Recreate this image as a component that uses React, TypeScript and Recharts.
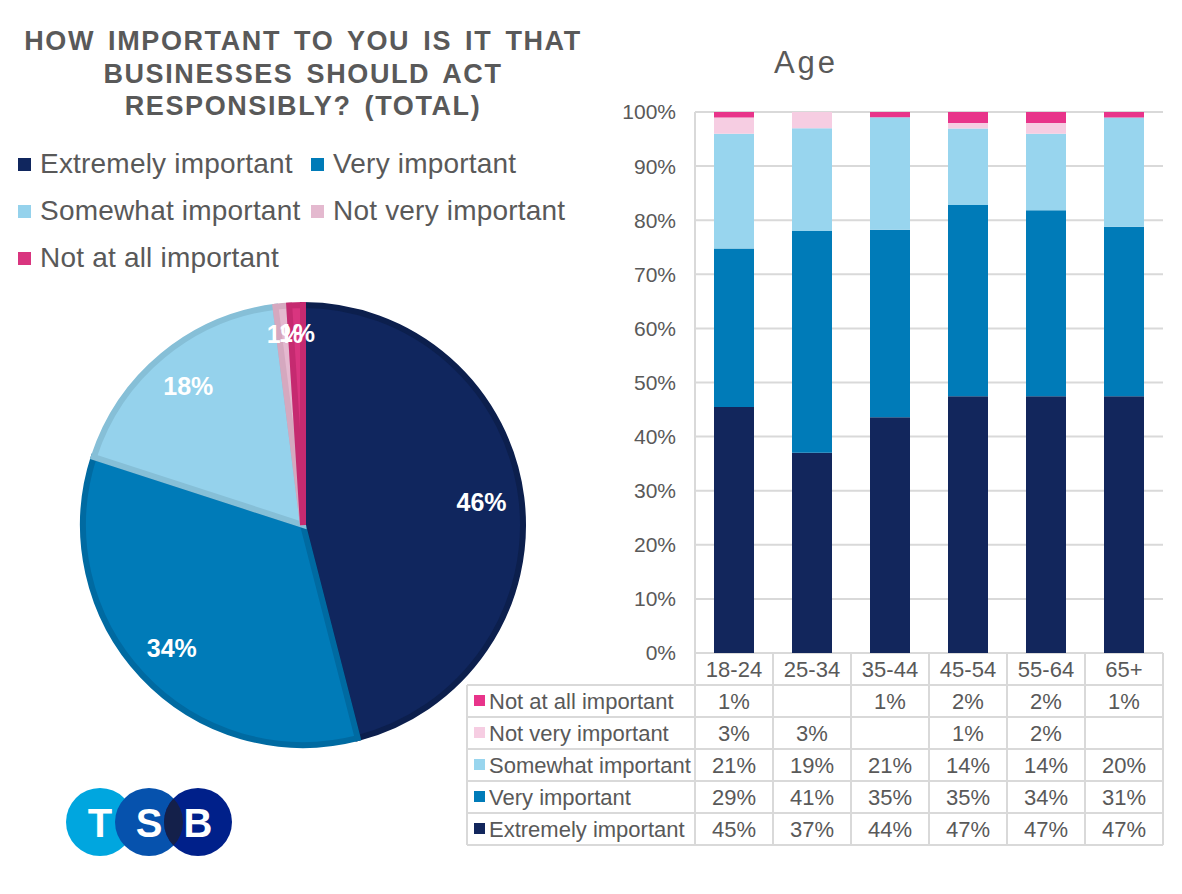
import { Bar, BarChart, CartesianGrid, Cell, Pie, PieChart, XAxis, YAxis } from "recharts";

const FONT = '"Liberation Sans", Arial, sans-serif';
const GREY = "#595959";
const LINE = "#d9d9d9";

// answer options, bottom of the stack first
const answers = [
  "Extremely important",
  "Very important",
  "Somewhat important",
  "Not very important",
  "Not at all important",
];
const barColors = ["#12265c", "#007bb8", "#98d5ee", "#f6cde2", "#e8348a"];
const pieColors = ["#10265e", "#007bb8", "#95d2ec", "#e4b9cf", "#d9357f"];
const pieStrokes = ["#0c1f4d", "#006aa1", "#86bfd7", "#d5a8bf", "#c52a70"];

// total sample
const totalValues = [46, 34, 18, 1, 1];

// by age band (blank cells are null)
const ageGroups = ["18-24", "25-34", "35-44", "45-54", "55-64", "65+"];
const extremely = [45, 37, 44, 47, 47, 47];
const very = [29, 41, 35, 35, 34, 31];
const somewhat = [21, 19, 21, 14, 14, 20];
const notVery = [3, 3, null, 1, 2, null];
const notAtAll = [1, null, 1, 2, 2, 1];

const seriesValues = [extremely, very, somewhat, notVery, notAtAll];
const seriesKeys = ["extremely", "very", "somewhat", "notVery", "notAtAll"];
const yTicks = [0, 0.1, 0.2, 0.3, 0.4, 0.5, 0.6, 0.7, 0.8, 0.9, 1];

const barData = ageGroups.map((age, i) => {
  const row: Record<string, string | number | null> = { age };
  seriesKeys.forEach((k, s) => (row[k] = seriesValues[s][i]));
  return row;
});

const pieData = answers.map((name, i) => ({ name, value: totalValues[i] }));

// bar chart plot box (page coords)
const PLOT_LEFT = 695;
const PLOT_RIGHT = 1163;
const PLOT_TOP = 112;
const PLOT_BOTTOM = 653;
const CHART_LEFT = 600;
const CHART_TOP = 90;
const BAND = (PLOT_RIGHT - PLOT_LEFT) / ageGroups.length;

const RADIAN = Math.PI / 180;

function PieLabel(props: any) {
  const { cx, cy, midAngle, value, percent } = props;
  // thin slices get their label pushed out a little
  const r = percent < 0.05 ? 192 : 180;
  const x = cx + r * Math.cos(-midAngle * RADIAN);
  const y = cy + r * Math.sin(-midAngle * RADIAN);
  return (
    <text
      x={x}
      y={y}
      fill="#ffffff"
      fontFamily={FONT}
      fontWeight="bold"
      fontSize={25}
      textAnchor="middle"
      dominantBaseline="central"
    >
      {value}%
    </text>
  );
}

function Logo() {
  const r = 34;
  const cy = 822;
  const xs = [100, 149, 198];
  return (
    <svg
      width={1182}
      height={894}
      style={{ position: "absolute", left: 0, top: 0, pointerEvents: "none" }}
    >
      <defs>
        <clipPath id="sClip">
          <circle cx={xs[1]} cy={cy} r={r} />
        </clipPath>
      </defs>
      <circle cx={xs[0]} cy={cy} r={r} fill="#00a6df" />
      <circle cx={xs[1]} cy={cy} r={r} fill="#0652ad" />
      <circle cx={xs[2]} cy={cy} r={r} fill="#00208a" />
      <circle cx={xs[2]} cy={cy} r={r} fill="#14204a" clipPath="url(#sClip)" />
      {["T", "S", "B"].map((t, i) => (
        <text
          key={t}
          x={xs[i]}
          y={cy + 1}
          fill="#ffffff"
          fontFamily={FONT}
          fontWeight="bold"
          fontSize={40}
          textAnchor="middle"
          dominantBaseline="central"
        >
          {t}
        </text>
      ))}
    </svg>
  );
}

function DataTable() {
  const rowH = 32;
  const labelLeft = 467;
  const rows = [4, 3, 2, 1, 0];
  const cells = [];
  // header row: age bands
  ageGroups.forEach((g, i) => {
    cells.push(
      <text
        key={"h" + i}
        x={PLOT_LEFT + BAND * (i + 0.5)}
        y={PLOT_BOTTOM + rowH / 2}
        textAnchor="middle"
        dominantBaseline="central"
      >
        {g}
      </text>
    );
  });
  rows.forEach((s, r) => {
    const yMid = PLOT_BOTTOM + rowH * (r + 1.5);
    cells.push(
      <rect key={"k" + r} x={labelLeft + 7} y={yMid - 6} width={11} height={11} fill={barColors[s]} />
    );
    cells.push(
      <text key={"l" + r} x={labelLeft + 22} y={yMid} dominantBaseline="central">
        {answers[s]}
      </text>
    );
    seriesValues[s].forEach((v, i) => {
      if (v == null) return;
      cells.push(
        <text
          key={"v" + r + "-" + i}
          x={PLOT_LEFT + BAND * (i + 0.5)}
          y={yMid}
          textAnchor="middle"
          dominantBaseline="central"
        >
          {v}%
        </text>
      );
    });
  });

  const bottom = PLOT_BOTTOM + rowH * 6;
  const lines = [];
  for (let r = 1; r <= 6; r++) {
    const y = PLOT_BOTTOM + rowH * r;
    lines.push(<line key={"hl" + r} x1={labelLeft} x2={PLOT_RIGHT} y1={y} y2={y} />);
  }
  for (let i = 0; i <= ageGroups.length; i++) {
    const x = PLOT_LEFT + BAND * i;
    lines.push(<line key={"vl" + i} x1={x} x2={x} y1={PLOT_BOTTOM} y2={bottom} />);
  }
  lines.push(
    <line key="vl-left" x1={labelLeft} x2={labelLeft} y1={PLOT_BOTTOM + rowH} y2={bottom} />
  );

  return (
    <svg
      width={1182}
      height={894}
      style={{ position: "absolute", left: 0, top: 0, pointerEvents: "none" }}
    >
      <g stroke={LINE} strokeWidth={2}>{lines}</g>
      <g fill={GREY} fontFamily={FONT} fontSize={22}>
        {cells}
      </g>
    </svg>
  );
}

export default function App() {
  return (
    <div
      style={{
        position: "absolute",
        left: 0,
        top: 0,
        width: 1182,
        height: 894,
        background: "#ffffff",
        fontFamily: FONT,
        color: GREY,
      }}
    >
      <div
        style={{
          position: "absolute",
          left: 0,
          top: 25,
          width: 606,
          textAlign: "center",
          fontWeight: "bold",
          fontSize: 27,
          lineHeight: "32.5px",
          letterSpacing: 1.6,
          wordSpacing: 4,
        }}
      >
        HOW IMPORTANT TO YOU IS IT THAT
        <br />
        BUSINESSES SHOULD ACT
        <br />
        RESPONSIBLY? (TOTAL)
      </div>

      {answers.map((a, i) => {
        const col = i % 2;
        const row = Math.floor(i / 2);
        return (
          <div
            key={a}
            style={{
              position: "absolute",
              left: 18 + col * 293,
              top: 163 + row * 47 - 15,
              height: 32,
              display: "flex",
              alignItems: "center",
              fontSize: 28,
              letterSpacing: 0.2,
              whiteSpace: "nowrap",
            }}
          >
            <span
              style={{
                display: "inline-block",
                width: 13,
                height: 13,
                background: pieColors[i],
                marginRight: 9,
              }}
            />
            {a}
          </div>
        );
      })}

      <div style={{ position: "absolute", left: 0, top: 285 }}>
        <PieChart width={606} height={480} margin={{ top: 0, right: 0, bottom: 0, left: 0 }}>
          <Pie
            data={pieData}
            dataKey="value"
            cx={303}
            cy={240}
            outerRadius={220}
            startAngle={90}
            endAngle={-270}
            strokeWidth={6}
            label={PieLabel}
            labelLine={false}
            isAnimationActive={false}
          >
            {pieData.map((d, i) => (
              <Cell key={d.name} fill={pieColors[i]} stroke={pieStrokes[i]} />
            ))}
          </Pie>
        </PieChart>
      </div>

      <Logo />

      <div
        style={{
          position: "absolute",
          left: 706,
          top: 45,
          width: 200,
          textAlign: "center",
          fontSize: 31,
          letterSpacing: 3,
        }}
      >
        Age
      </div>

      <div style={{ position: "absolute", left: CHART_LEFT, top: CHART_TOP }}>
        <BarChart
          width={PLOT_RIGHT - CHART_LEFT + 19}
          height={PLOT_BOTTOM - CHART_TOP + 20}
          data={barData}
          stackOffset="expand"
          margin={{ top: PLOT_TOP - CHART_TOP, right: 19, bottom: 20, left: 0 }}
        >
          <CartesianGrid vertical={false} stroke={LINE} strokeWidth={2} />
          <XAxis dataKey="age" hide />
          <YAxis
            width={PLOT_LEFT - CHART_LEFT}
            domain={[0, 1]}
            ticks={yTicks}
            tickFormatter={(v: number) => `${Math.round(v * 100)}%`}
            axisLine={{ stroke: LINE, strokeWidth: 2 }}
            tickLine={false}
            tickSize={0}
            tickMargin={19}
            tick={{ fill: GREY, fontSize: 21, fontFamily: FONT }}
          />
          {seriesKeys.map((k, s) => (
            <Bar
              key={k}
              dataKey={k}
              stackId="age"
              fill={barColors[s]}
              barSize={40}
              isAnimationActive={false}
            />
          ))}
        </BarChart>
      </div>

      <DataTable />
    </div>
  );
}
